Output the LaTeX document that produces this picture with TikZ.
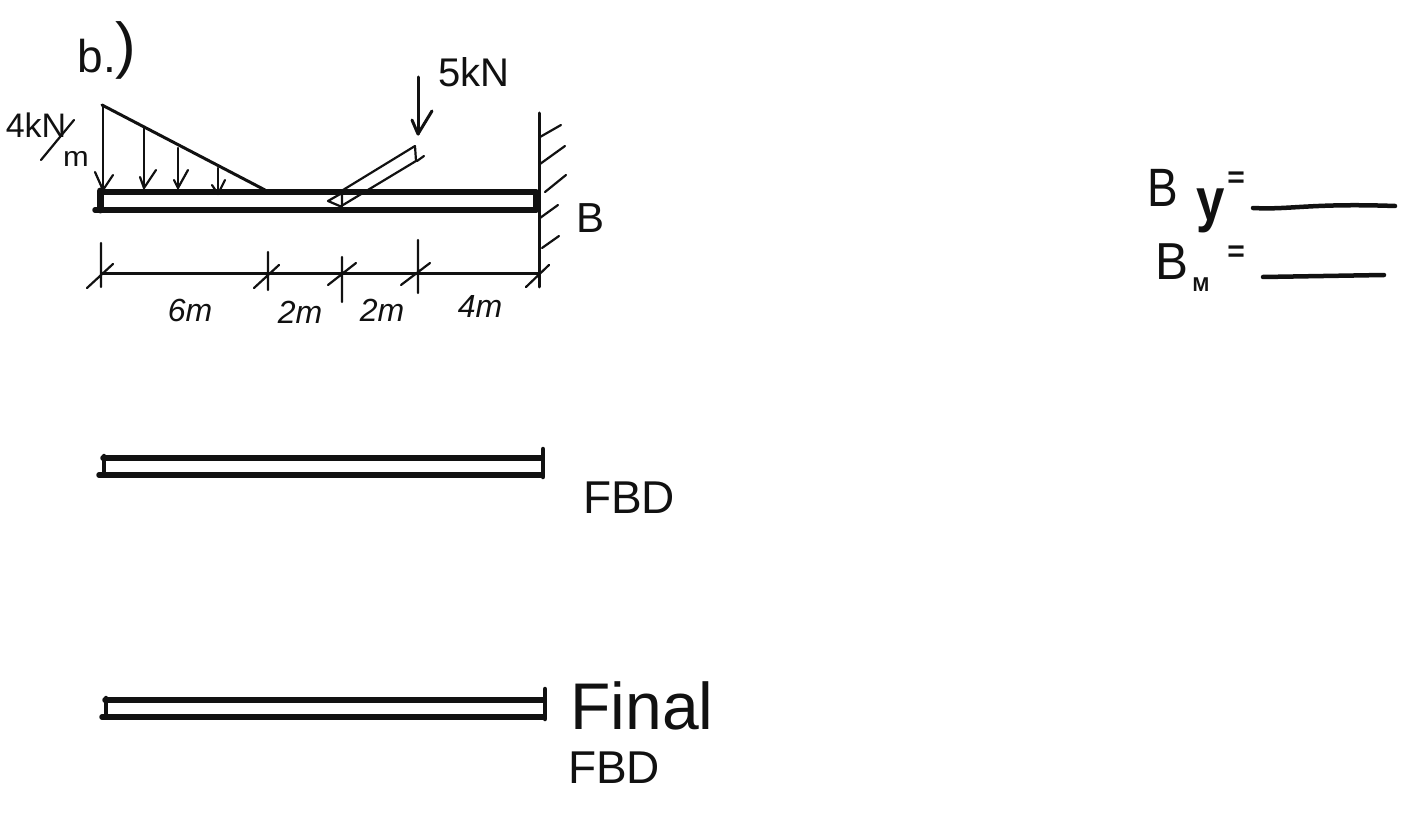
\documentclass[tikz,border=0pt]{standalone}
\usepackage{fontspec}
\setmainfont{Liberation Sans}
\tikzset{
  txt/.style={inner sep=0pt,text=ink,font=\fontsize{#1}{#1}\selectfont},
  txti/.style={inner sep=0pt,text=ink,font=\fontsize{#1}{#1}\selectfont\itshape},
  txtb/.style={inner sep=0pt,text=ink,font=\fontsize{#1}{#1}\selectfont\bfseries},
  thin line/.style={draw=ink,line width=2.2pt,line cap=round,line join=round},
  mid line/.style={draw=ink,line width=3pt,line cap=round,line join=round},
  beam line/.style={draw=ink,line width=5.5pt,line cap=round,line join=round},
  end line/.style={draw=ink,line width=4.5pt,line cap=round,line join=round},
  answer line/.style={draw=ink,line width=4.5pt,line cap=round}
}
\definecolor{ink}{HTML}{111111}
\begin{document}
\begin{tikzpicture}[x=1pt,y=-1pt]
\useasboundingbox (0,0) rectangle (1409,837);
\fill[white] (0,0) rectangle (1409,837);

% ---- top beam
\draw[beam line] (100,192) -- (536,192);
\draw[beam line] (95,210) -- (536,210);
\draw[beam line,line width=7pt] (100,191) -- (100,210);
\draw[beam line] (536,192) -- (536,210);

% ---- triangular load
\draw[mid line] (102,105) -- (265,190);
\draw[thin line] (103,105) -- (103,190);
\draw[thin line] (95,172) -- (103,190) -- (113,175);
\draw[thin line] (144,128) -- (144,188);
\draw[thin line] (140,177) -- (144,188) -- (156,170);
\draw[thin line] (178,148) -- (178,188);
\draw[thin line] (174,180) -- (178,188) -- (188,170);
\draw[thin line] (218,168) -- (218,194);
\draw[thin line] (212,185) -- (218,194) -- (225,180);

% ---- inclined bracket and 5 kN force
\draw[thin line] (343,190) -- (415,146) -- (416,161) -- (343,205);
\draw[thin line] (417,161) -- (424,156);
\draw[thin line] (342,193) -- (328,201) -- (342,207) -- cycle;
\draw[mid line] (418,77) -- (418,134);
\draw[mid line] (412,120) -- (418,134) -- (432,111);

% ---- wall
\draw[mid line] (539,113) -- (539,287);
\foreach \a/\b/\c/\d in {540/137/561/125,540/164/565/146,545/192/566/175,540/218/558/205,542/248/559/236,526/287/549/265}
  \draw[thin line] (\a,\b) -- (\c,\d);

% ---- dimension line
\draw[mid line] (103,274) -- (538,274);
\draw[thin line] (101,243) -- (101,287) (87,288) -- (113,264);
\draw[thin line] (268,252) -- (268,290) (254,288) -- (279,265);
\draw[thin line] (342,257) -- (342,302) (328,285) -- (356,263);
\draw[thin line] (418,240) -- (418,293) (401,285) -- (430,263);

% ---- top labels
\node[txt=46] (lblb) at (97,56) {b.};
\node[txt=62] (lblp) at (126,50) {)};
\node[txt=34] (lblq) at (36,125) {4kN};
\draw[thin line] (41,160) -- (74,120);
\node[txt=28,xscale=1.1] (lblm) at (76,159) {m};
\node[txt=40] (lblF) at (474,72) {5kN};
\node[txt=42] (lblB) at (591,218) {B};
\node[txti=32] (d1) at (190,310) {6m};
\node[txti=32] (d2) at (300,312) {2m};
\node[txti=32] (d3) at (382,310) {2m};
\node[txti=32] (d4) at (480,306) {4m};

% ---- answers
\node[txt=54,xscale=.85] (ansB) at (1163,188) {B};
\node[txtb=60,xscale=.85] (ansy) at (1211,211) {y};
\node[txtb=30] (anseq) at (1236,180) {=};
\draw[answer line] (1253,208) .. controls (1290,210) and (1310,203) .. (1395,206);
\node[txt=52,xscale=.95] (ansBM) at (1172,262) {B};
\node[txtb=20] (ansM) at (1201,285) {M};
\node[txtb=30] (anseqb) at (1236,254) {=};
\draw[answer line] (1263,277) -- (1384,275);

% ---- FBD beam
\draw[beam line] (103,458) -- (541,458);
\draw[beam line] (99,475) -- (541,475);
\draw[end line] (104,456) -- (104,475);
\draw[end line] (543,449) -- (543,477);
\node[txt=46] (fbd) at (629,498) {FBD};

% ---- final FBD beam
\draw[beam line] (105,700) -- (543,700);
\draw[beam line] (102,717) -- (543,717);
\draw[end line] (106,698) -- (106,717);
\draw[end line] (545,689) -- (545,719);
\node[txt=66] (final) at (642,706) {Final};
\node[txt=46] (fbdb) at (614,768) {FBD};
\end{tikzpicture}
\end{document}
